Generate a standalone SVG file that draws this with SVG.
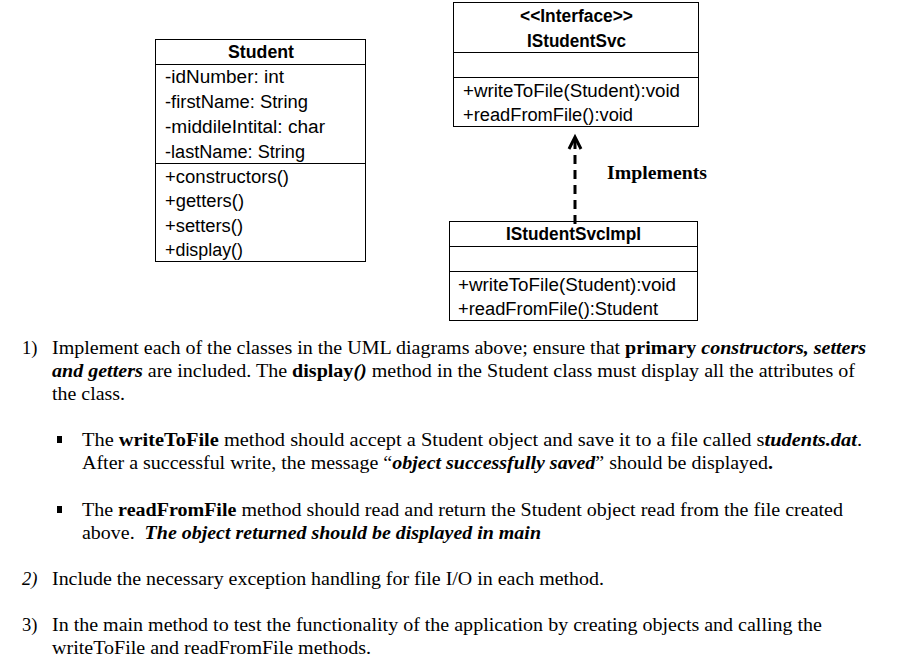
<svg xmlns="http://www.w3.org/2000/svg" width="909" height="667" viewBox="0 0 909 667">
<style>
.box{fill:#fff;stroke:#000;stroke-width:1}
.u{font-family:"Liberation Sans",Arial,sans-serif;font-size:18px;fill:#000}
.ub{font-family:"Liberation Sans",Arial,sans-serif;font-size:18px;font-weight:bold;fill:#000}
.t{font-family:"Liberation Serif","Times New Roman",serif;font-size:18.5px;fill:#000}
.b{font-weight:bold}
.bi{font-weight:bold;font-style:italic}
.i{font-style:italic}
</style>
<rect width="909" height="667" fill="#fff"/>
<g id="Student">
<rect class="box" x="155.5" y="39.5" width="210" height="222"/>
<line x1="155.5" y1="64.5" x2="365.5" y2="64.5" stroke="#000"/>
<line x1="155.5" y1="163.5" x2="365.5" y2="163.5" stroke="#000"/>
<text class="ub" x="228" y="58" textLength="66" lengthAdjust="spacingAndGlyphs">Student</text>
<text class="u" x="165" y="83" textLength="119" lengthAdjust="spacingAndGlyphs">-idNumber: int</text>
<text class="u" x="165" y="108" textLength="143" lengthAdjust="spacingAndGlyphs">-firstName: String</text>
<text class="u" x="165" y="133" textLength="160" lengthAdjust="spacingAndGlyphs">-middileIntital: char</text>
<text class="u" x="165" y="158" textLength="140" lengthAdjust="spacingAndGlyphs">-lastName: String</text>
<text class="u" x="165" y="183" textLength="124" lengthAdjust="spacingAndGlyphs">+constructors()</text>
<text class="u" x="165" y="207" textLength="79" lengthAdjust="spacingAndGlyphs">+getters()</text>
<text class="u" x="165" y="232" textLength="78" lengthAdjust="spacingAndGlyphs">+setters()</text>
<text class="u" x="165" y="256" textLength="78" lengthAdjust="spacingAndGlyphs">+display()</text>
</g>
<g id="IStudentSvc">
<rect class="box" x="453.5" y="2.5" width="245" height="124"/>
<line x1="453.5" y1="52.5" x2="698.5" y2="52.5" stroke="#000"/>
<line x1="453.5" y1="77.5" x2="698.5" y2="77.5" stroke="#000"/>
<text class="ub" x="520" y="22" textLength="113" lengthAdjust="spacingAndGlyphs">&lt;&lt;Interface&gt;&gt;</text>
<text class="ub" x="527" y="47" textLength="99" lengthAdjust="spacingAndGlyphs">IStudentSvc</text>
<text class="u" x="463" y="97" textLength="217" lengthAdjust="spacingAndGlyphs">+writeToFile(Student):void</text>
<text class="u" x="463" y="121" textLength="170" lengthAdjust="spacingAndGlyphs">+readFromFile():void</text>
</g>
<g id="IStudentSvcImpl">
<rect class="box" x="449.5" y="221.5" width="248" height="99"/>
<line x1="449.5" y1="246.5" x2="697.5" y2="246.5" stroke="#000"/>
<line x1="449.5" y1="271.5" x2="697.5" y2="271.5" stroke="#000"/>
<text class="ub" x="506" y="240" textLength="135" lengthAdjust="spacingAndGlyphs">IStudentSvcImpl</text>
<text class="u" x="458" y="291" textLength="218" lengthAdjust="spacingAndGlyphs">+writeToFile(Student):void</text>
<text class="u" x="458" y="315" textLength="200" lengthAdjust="spacingAndGlyphs">+readFromFile():Student</text>
</g>
<g id="connectors">
<line x1="575" y1="140" x2="575" y2="224" stroke="#000" stroke-width="3" stroke-dasharray="9,6"/>
<polyline points="569,149 575,137 581,149" fill="none" stroke="#000" stroke-width="3"/>
<text class="t b" x="607" y="179" font-size="18" textLength="100" lengthAdjust="spacingAndGlyphs">Implements</text>
</g>
<g id="text">
<text class="t" x="22" y="354">1)</text>
<text class="t" x="52" y="354" textLength="814" lengthAdjust="spacingAndGlyphs">Implement each of the classes in the UML diagrams above; ensure that <tspan class="b">primary </tspan><tspan class="bi">constructors, setters</tspan></text>
<text class="t" x="52" y="377" textLength="803" lengthAdjust="spacingAndGlyphs"><tspan class="bi">and getters</tspan> are included. The <tspan class="b">display</tspan><tspan class="bi">()</tspan> method in the Student class must display all the attributes of</text>
<text class="t" x="52" y="400" textLength="73" lengthAdjust="spacingAndGlyphs">the class.</text>
<rect x="57" y="436" width="5" height="7" fill="#000"/>
<text class="t" x="82" y="446" textLength="780" lengthAdjust="spacingAndGlyphs">The <tspan class="b">writeToFile</tspan> method should accept a Student object and save it to a file called s<tspan class="bi">tudents.dat</tspan>.</text>
<text class="t" x="82" y="469" textLength="691" lengthAdjust="spacingAndGlyphs">After a successful write, the message “<tspan class="bi">object successfully saved</tspan>” should be displayed<tspan class="b">.</tspan></text>
<rect x="57" y="506" width="5" height="7" fill="#000"/>
<text class="t" x="82" y="516" textLength="761" lengthAdjust="spacingAndGlyphs">The <tspan class="b">readFromFile</tspan> method should read and return the Student object read from the file created</text>
<text class="t" x="82" y="539" textLength="459" lengthAdjust="spacingAndGlyphs">above.&#160; <tspan class="bi">The object returned should be displayed in main</tspan></text>
<text class="t i" x="22" y="585">2)</text>
<text class="t" x="52" y="585" textLength="552" lengthAdjust="spacingAndGlyphs">Include the necessary exception handling for file I/O in each method.</text>
<text class="t" x="22" y="631" font-size="15">3)</text>
<text class="t" x="52" y="631" textLength="770" lengthAdjust="spacingAndGlyphs">In the main method to test the functionality of the application by creating objects and calling the</text>
<text class="t" x="52" y="654" textLength="319" lengthAdjust="spacingAndGlyphs">writeToFile and readFromFile methods.</text>
</g>
</svg>
